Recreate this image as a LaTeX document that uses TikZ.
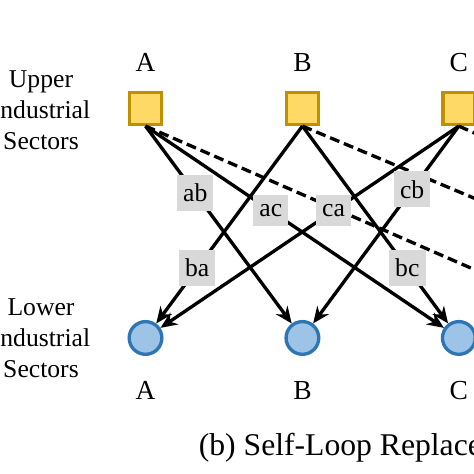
\documentclass[tikz,border=0pt]{standalone}
\usepackage{fontspec}
\setmainfont{Liberation Serif}
\usetikzlibrary{arrows.meta}
\definecolor{upfill}{HTML}{FFD966}
\definecolor{updraw}{HTML}{BF9000}
\definecolor{lofill}{HTML}{9DC3E6}
\definecolor{lodraw}{HTML}{2E75B6}
\newcommand\secfont{\fontsize{15.4}{18.6}\selectfont}

\begin{document}
\begin{tikzpicture}[line width=2pt,
    upper/.style={draw=updraw, fill=upfill, minimum size=0.67cm, inner sep=0pt},
    lower/.style={circle, draw=lodraw, fill=lofill, minimum size=0.69cm, inner sep=0pt},
    flow/.style={-{Stealth[length=10pt,width=8.5pt]}},
    loopflow/.style={dash pattern=on 6pt off 3pt},
    wt/.style={fill=gray!30, inner xsep=3.7pt, inner ysep=5.5pt, font=\secfont},
    letter/.style={font=\fontsize{16.5}{19}\selectfont, inner sep=0pt}]
  \useasboundingbox (0,0) rectangle (10,10);
  \clip (0,0) rectangle (10,10);
  % sectors
  \node[upper] (Aup) at (3.07,7.71) {};
  \node[upper] (Bup) at (6.38,7.71) {};
  \node[upper] (Cup) at (9.68,7.71) {};
  \node[lower] (Alo) at (3.07,2.87) {};
  \node[lower] (Blo) at (6.38,2.87) {};
  \node[lower] (Clo) at (9.68,2.87) {};
  \node[letter] (Aupl) at (3.07,8.69) {A};
  \node[letter] (Bupl) at (6.38,8.69) {B};
  \node[letter] (Cupl) at (9.68,8.69) {C};
  \node[letter] (Alol) at (3.07,1.77) {A};
  \node[letter] (Blol) at (6.38,1.77) {B};
  \node[letter] (Clol) at (9.68,1.77) {C};
  \node[align=center, font=\secfont] (uptext) at (0.865,7.68) {Upper\\Industrial\\Sectors};
  \node[align=center, font=\secfont] (lotext) at (0.865,2.87) {Lower\\Industrial\\Sectors};
  % replaced self-loops
  \coordinate (Aend) at (11,3.88);
  \coordinate (Bend) at (11,5.40);
  \coordinate (Cend) at (11,6.75);
  \draw[loopflow] (Aup.south) -- (Aend);
  \draw[loopflow] (Bup.south) -- (Bend);
  \draw[loopflow] (Cup.south) -- (Cend);
  % flows
  \draw[flow] (Aup.south) -- node[wt, pos=.34] {ab} (Blo);
  \draw[flow] (Aup.south) -- node[wt, pos=.42] {ac} (Clo);
  \draw[flow] (Bup.south) -- node[wt, pos=.72] {ba} (Alo);
  \draw[flow] (Bup.south) -- node[wt, pos=.72] {bc} (Clo);
  \draw[flow] (Cup.south) -- node[wt, pos=.42] {ca} (Alo);
  \draw[flow] (Cup.south) -- node[wt, pos=.32] {cb} (Blo);
  \node[anchor=base west, inner sep=0pt, font=\fontsize{19}{22}\selectfont] (caption)
    at (4.16,0.38) {(b) Self-Loop Replacement};
\end{tikzpicture}
\end{document}
